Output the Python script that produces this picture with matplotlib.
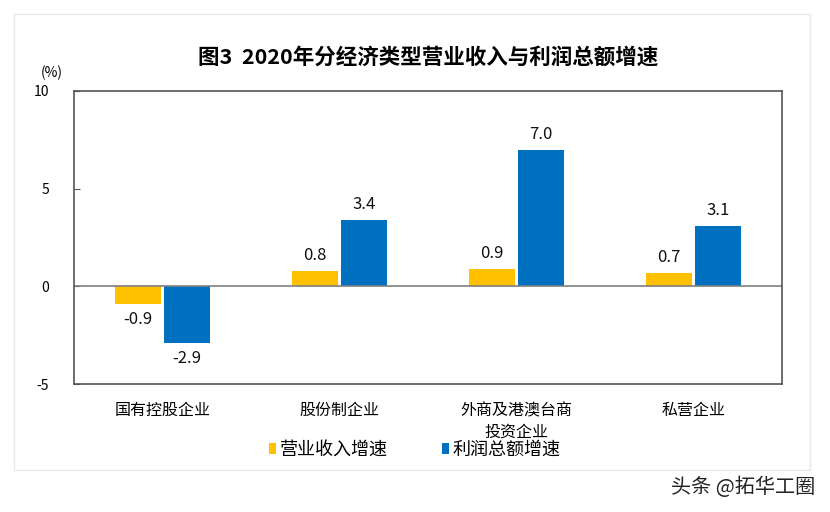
import numpy as np
import matplotlib.pyplot as plt
from matplotlib.patches import Rectangle

plt.rcParams['font.family'] = ['Noto Sans CJK SC', 'DejaVu Sans']

# --- data ---
categories = ['国有控股企业', '股份制企业', '外商及港澳台商\n投资企业', '私营企业']
revenue_growth = [-0.9, 0.8, 0.9, 0.7]
profit_growth = [-2.9, 3.4, 7.0, 3.1]
series_names = ['营业收入增速', '利润总额增速']
yticks = [-5, 0, 5, 10]

yellow = '#FFC000'
blue = '#0070C0'

fig = plt.figure(figsize=(8.3, 5.12), dpi=100)
fig.patches.append(Rectangle((14 / 830, 1 - 470 / 512), 796 / 830, 456 / 512,
                             transform=fig.transFigure, fill=False,
                             edgecolor='#e8e8e8', linewidth=1))

ax = fig.add_axes([74 / 830, 1 - 384 / 512, 708 / 830, 293 / 512])

x = np.arange(len(categories))
w = 0.26
b1 = ax.bar(x - w / 2 - 0.008, revenue_growth, w, color=yellow, label=series_names[0])
b2 = ax.bar(x + w / 2 + 0.008, profit_growth, w, color=blue, label=series_names[1])

for bars, vals in ((b1, revenue_growth), (b2, profit_growth)):
    for bar, v in zip(bars, vals):
        cx = bar.get_x() + bar.get_width() / 2
        off = 0.35 if v >= 0 else -0.35
        ax.text(cx, v + off, f'{v:.1f}', ha='center',
                va='bottom' if v >= 0 else 'top', fontsize=12, color='#111111')

ax.axhline(0, color='#7f7f7f', linewidth=1.2)
ax.set_xlim(-0.5, len(categories) - 0.5)
ax.set_ylim(-5, 10)
ax.set_yticks(yticks)
ax.set_yticklabels([str(t) for t in yticks], fontsize=10)
ax.tick_params(axis='y', direction='in', length=4, color='#555555', pad=18)
ax.set_xticks(x)
ax.set_xticklabels(categories, fontsize=11.5, linespacing=1.35)
ax.tick_params(axis='x', length=0, pad=13)
for s in ax.spines.values():
    s.set_color('#555555')
    s.set_linewidth(1.2)

fig.text(52 / 830, 1 - 73 / 512, '(%)', ha='center', va='center', fontsize=10)
fig.text(428 / 830, 1 - 57 / 512, '图3  2020年分经济类型营业收入与利润总额增速',
         ha='center', va='center', fontsize=15.5, fontweight='bold')

fig.legend(handles=[b1, b2], loc='center', bbox_to_anchor=(415 / 830, 1 - 450 / 512),
           ncol=2, frameon=False, fontsize=13, handlelength=0.4, handleheight=0.5,
           handletextpad=0.2, columnspacing=3)

fig.text(815 / 830, 1 - 487 / 512, '头条 @拓华工圈', ha='right', va='center',
         fontsize=14.5, color='#222222')

fig.savefig('out.png', dpi=100, facecolor='white')
